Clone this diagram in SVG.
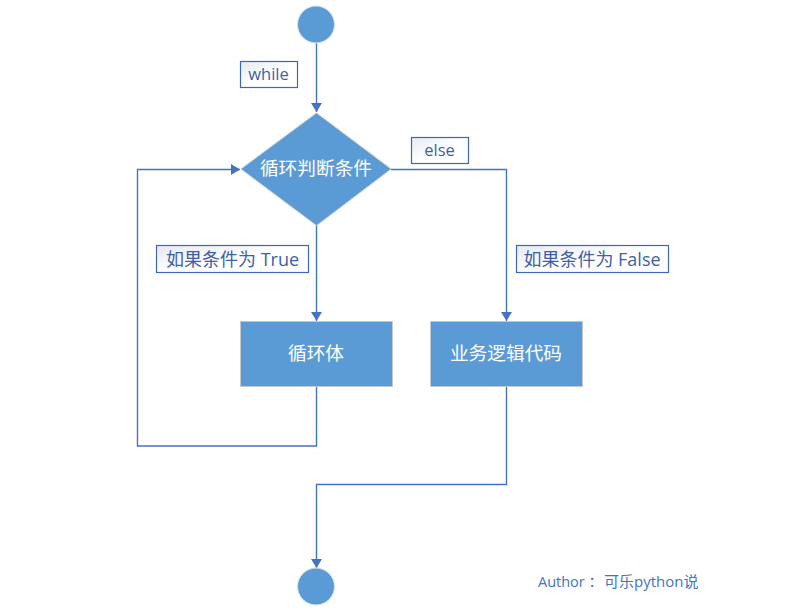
<svg xmlns="http://www.w3.org/2000/svg" width="811" height="612" viewBox="0 0 811 612">
<style>
text{font-family:"Open Sans","Noto Sans CJK SC",sans-serif}
.s{fill:#5b9bd5;stroke:#c4c9cf;stroke-width:1}
.c{fill:#5b9bd5;stroke:#d6e4f2;stroke-width:1}
.w{fill:#fff;font-size:18.700px;text-anchor:middle;font-family:"Noto Sans CJK SC",sans-serif}
.l{fill:url(#g);stroke:#3f66b3;stroke-width:1.2}
.t{fill:#3f5fa8;font-size:18px;text-anchor:middle}
.e{font-size:16.500px}
.k{fill:none;stroke:#4472c4;stroke-width:1.4}
</style>
<defs>
<linearGradient id="g" x1="0" y1="0" x2="1" y2="1"><stop offset="0" stop-color="#e6e9f5"/><stop offset="0.5" stop-color="#fff"/></linearGradient>
<marker id="a" markerUnits="userSpaceOnUse" markerWidth="12" markerHeight="12" refX="9" refY="6" orient="auto"><path d="M0,0.500L9,6L0,11.500Z" fill="#4472c4"/></marker>
</defs>
<rect width="811" height="612" fill="#fff"/>
<g id="connectors">
<path class="k" marker-end="url(#a)" d="M316.500,43V112"/>
<path class="k" marker-end="url(#a)" d="M316.500,225V321"/>
<path class="k" marker-end="url(#a)" d="M316.500,386V446H137.500V169.500H240"/>
<path class="k" marker-end="url(#a)" d="M391,169.500H506.500V321"/>
<path class="k" marker-end="url(#a)" d="M506.500,386V484.500H316.500V568"/>
</g>
<g id="start"><circle class="c" cx="316" cy="24.500" r="18.500"/></g>
<g id="decision"><path class="s" d="M316.500,113L391,169L316.500,225.500L241,169Z"/><text class="w" x="316" y="175">循环判断条件</text></g>
<g id="loop-body"><rect class="s" x="240.500" y="321.500" width="152" height="65"/><text class="w" x="316" y="360">循环体</text></g>
<g id="business-logic"><rect class="s" x="430.500" y="321.500" width="152" height="65"/><text class="w" x="506" y="360">业务逻辑代码</text></g>
<g id="end"><circle class="c" cx="316" cy="586.500" r="18.500"/></g>
<g id="label-while"><rect class="l" x="240.500" y="61.500" width="57" height="26"/><text class="t e" x="268.500" y="80">while</text></g>
<g id="label-else"><rect class="l" x="411.500" y="137.500" width="57" height="26"/><text class="t e" x="439.500" y="156">else</text></g>
<g id="label-true"><rect class="l" x="156.500" y="245.500" width="152" height="27"/><text class="t" x="232.500" y="265.500">如果条件为 True</text></g>
<g id="label-false"><rect class="l" x="516.500" y="245.500" width="152" height="27"/><text class="t" x="592" y="265.500">如果条件为 False</text></g>
<g id="author"><text x="538" y="587" fill="#4472c4" font-size="14.500px">Author ：<tspan x="604" font-size="15px">可乐python说</tspan></text></g>
</svg>
